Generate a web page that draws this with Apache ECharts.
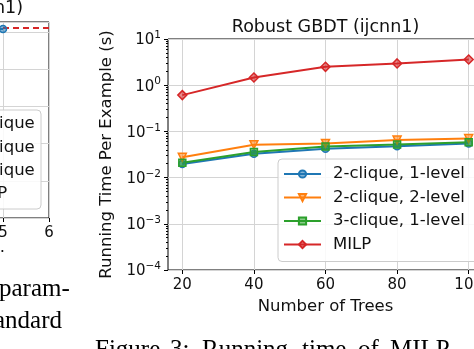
<!DOCTYPE html>
<html><head><meta charset="utf-8">
<script src="https://cdn.jsdelivr.net/npm/echarts@6/dist/echarts.min.js"></script>
<style>html,body{margin:0;padding:0;background:#fff}#c{width:474px;height:349px}</style>
</head><body><div id="c"></div>
<script>
// ---- main panel data (Robust GBDT, ijcnn1) ----
const trees = [20, 40, 60, 80, 100];
const clique2Level1 = [0.0196, 0.033, 0.042, 0.048, 0.055];
const clique2Level2 = [0.0275, 0.0516, 0.055, 0.065, 0.070];
const clique3Level1 = [0.021, 0.036, 0.047, 0.052, 0.058];
const milp = [0.61, 1.47, 2.5, 2.96, 3.6];
const seriesNames = ['2-clique, 1-level', '2-clique, 2-level', '3-clique, 1-level', 'MILP'];
const xTickValues = [20, 40, 60, 80, 100];
// ---- left, cut-off panel fragment ----
const leftBlueX = [4, 5];
const leftBlueY = [5.08, 5.08];
const leftRedX = [0, 6];
const leftRedY = [5.11, 5.11];
const leftLegendTexts = ['2-clique', '3-clique', '4-clique', 'MILP'];

const SANS = 'DejaVu Sans';
const SERIF = 'Liberation Serif';
const TXT = '#111';
const GRIDC = '#d4d4d4';

function pairs(xs, ys) { return xs.map((x, i) => [x, ys[i]]); }
function lineSeries(name, ys, color, fill, symbol, rot, size) {
  return {
    type: 'line', name: name, xAxisIndex: 0, yAxisIndex: 0,
    data: pairs(trees, ys), symbol: symbol, symbolSize: size, symbolRotate: rot,
    lineStyle: { color: color, width: 2 },
    itemStyle: { color: fill, borderColor: color, borderWidth: 1.5 },
    emphasis: { disabled: true }, animation: false
  };
}
function supLabel(v) {
  const e = Math.round(Math.log10(v));
  const s = e < 0 ? '\u2212' + (-e) : String(e);
  return '{b|10}{s|' + s + '}';
}

const chart = echarts.init(document.getElementById('c'), null, { renderer: 'canvas' });

const graphic = [
  { type: 'text', x: 325.5, y: 27, style: { text: 'Robust GBDT (ijcnn1)', fontSize: 17.5, fontFamily: SANS, fill: TXT, align: 'center', verticalAlign: 'middle' } },
  { type: 'text', x: 23, y: 8, style: { text: 'Robust GBDT (ijcnn1)', fontSize: 17.5, fontFamily: SANS, fill: TXT, align: 'right', verticalAlign: 'middle' } },
  { type: 'rect', shape: { x: -90, y: 110, width: 131, height: 99, r: 4 }, style: { fill: 'rgba(255,255,255,0.85)', stroke: '#cccccc', lineWidth: 1 }, z: 50 },
  { type: 'text', x: 5, y: 248, style: { text: 'Trees.', fontSize: 16.5, fontFamily: SANS, fill: TXT, align: 'right', verticalAlign: 'middle' } },
  { type: 'text', x: -1, y: 289, style: { text: 'param-', fontSize: 25, fontFamily: SERIF, fill: '#000', verticalAlign: 'middle' } },
  { type: 'text', x: -6, y: 321, style: { text: 'andard', fontSize: 25, fontFamily: SERIF, fill: '#000', verticalAlign: 'middle' } },
  { type: 'text', x: 95, y: 350, style: { text: 'Figure', fontSize: 25, fontFamily: SERIF, fill: '#000', verticalAlign: 'middle' } },
  { type: 'text', x: 170, y: 350, style: { text: '3:', fontSize: 25, fontFamily: SERIF, fill: '#000', verticalAlign: 'middle' } },
  { type: 'text', x: 202, y: 350, style: { text: 'Running', fontSize: 25, fontFamily: SERIF, fill: '#000', verticalAlign: 'middle' } },
  { type: 'text', x: 302, y: 350, style: { text: 'time', fontSize: 25, fontFamily: SERIF, fill: '#000', verticalAlign: 'middle' } },
  { type: 'text', x: 358, y: 350, style: { text: 'of', fontSize: 25, fontFamily: SERIF, fill: '#000', verticalAlign: 'middle' } },
  { type: 'text', x: 390, y: 350, style: { text: 'MILP', fontSize: 25, fontFamily: SERIF, fill: '#000', verticalAlign: 'middle' } }
];
const legendYs = [124, 148, 171, 194];
leftLegendTexts.forEach((t, i) => {
  graphic.push({ type: 'text', x: -31, y: legendYs[i], z: 51, style: { text: t, fontSize: 16.5, fontFamily: SANS, fill: TXT, verticalAlign: 'middle' } });
});

const option = {
  animation: false,
  backgroundColor: '#fff',
  grid: [
    { left: 168, top: 39, width: 315, height: 231, show: true, borderColor: '#000', borderWidth: 1, backgroundColor: 'rgba(0,0,0,0)', containLabel: false, outerBoundsMode: 'none' },
    { left: -227, top: 22, width: 276, height: 196, show: true, borderColor: '#000', borderWidth: 1, backgroundColor: 'rgba(0,0,0,0)', containLabel: false, outerBoundsMode: 'none' }
  ],
  xAxis: [
    { gridIndex: 0, type: 'value', min: 16, max: 104,
      axisLine: { show: false },
      axisTick: { show: true, customValues: xTickValues, length: 4, lineStyle: { color: '#000' } },
      axisLabel: { customValues: xTickValues, fontSize: 15, fontFamily: SANS, color: TXT, margin: 8 },
      splitLine: { show: true, lineStyle: { color: GRIDC, width: 1 } },
      name: 'Number of Trees', nameLocation: 'middle', nameGap: 24,
      nameTextStyle: { fontSize: 16.5, fontFamily: SANS, color: TXT } },
    { gridIndex: 1, type: 'value', min: 0, max: 6, interval: 1,
      axisLine: { show: false },
      axisTick: { show: true, length: 4, lineStyle: { color: '#000' } },
      axisLabel: { fontSize: 15, fontFamily: SANS, color: TXT, margin: 8 },
      splitLine: { show: true, lineStyle: { color: GRIDC, width: 1 } } }
  ],
  yAxis: [
    { gridIndex: 0, type: 'log', logBase: 10, min: 1e-4, max: 10,
      axisLine: { show: false },
      axisTick: { show: true, length: 4, lineStyle: { color: '#000' } },
      minorTick: { show: true, splitNumber: 9, length: 2, lineStyle: { color: '#000' } },
      splitLine: { show: true, lineStyle: { color: GRIDC, width: 1 } },
      axisLabel: { formatter: supLabel, margin: 7,
        rich: { b: { fontSize: 15, fontFamily: SANS, color: TXT, verticalAlign: 'bottom' },
                s: { fontSize: 10.5, fontFamily: SANS, color: TXT, verticalAlign: 'bottom', padding: [0, 0, 7, 0] } } },
      name: 'Running Time Per Example (s)', nameLocation: 'middle', nameGap: 53,
      nameTextStyle: { fontSize: 16.5, fontFamily: SANS, color: TXT } },
    { gridIndex: 1, type: 'value', min: 0, max: 5.27, interval: 1,
      axisLine: { show: false }, axisTick: { show: false }, axisLabel: { show: false },
      splitLine: { show: true, lineStyle: { color: GRIDC, width: 1 } } }
  ],
  legend: {
    left: 278, top: 159, orient: 'vertical',
    data: seriesNames,
    itemWidth: 37, itemHeight: 9, itemGap: 5.5,
    padding: [6, 30, 8, 5],
    backgroundColor: 'rgba(255,255,255,0.85)', borderColor: '#cccccc', borderWidth: 1, borderRadius: 4,
    textStyle: { fontSize: 16.5, fontFamily: SANS, color: TXT, lineHeight: 18, padding: [0, 0, 0, 7] },
    selectedMode: false
  },
  series: [
    lineSeries(seriesNames[0], clique2Level1, '#1f77b4', 'rgba(31,119,180,0.55)', 'circle', 0, 7),
    lineSeries(seriesNames[1], clique2Level2, '#ff7f0e', 'rgba(255,127,14,0.55)', 'triangle', 180, 8),
    lineSeries(seriesNames[2], clique3Level1, '#2ca02c', 'rgba(44,160,44,0.55)', 'rect', 0, 7),
    lineSeries(seriesNames[3], milp, '#d62728', 'rgba(214,39,40,0.55)', 'diamond', 0, 9),
    { type: 'line', xAxisIndex: 1, yAxisIndex: 1, data: pairs(leftBlueX, leftBlueY), symbol: 'circle', symbolSize: 7,
      lineStyle: { color: '#1f77b4', width: 2 }, itemStyle: { color: 'rgba(31,119,180,0.55)', borderColor: '#1f77b4', borderWidth: 1.5 } },
    { type: 'line', xAxisIndex: 1, yAxisIndex: 1, data: pairs(leftRedX, leftRedY), symbol: 'none',
      lineStyle: { color: '#d62728', width: 2, type: [6, 4] } }
  ],
  graphic: graphic
};
chart.setOption(option);
</script>
</body></html>
